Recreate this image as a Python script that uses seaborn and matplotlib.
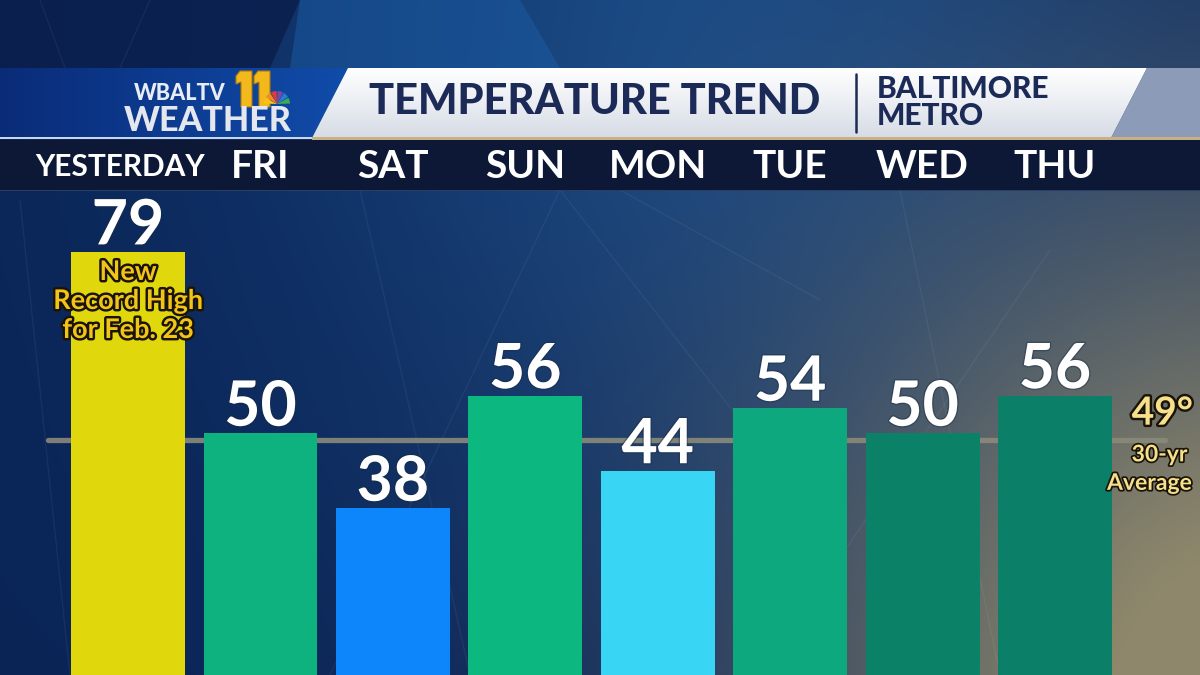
import numpy as np
import pandas as pd
import matplotlib
matplotlib.use("Agg")
import matplotlib.pyplot as plt
import matplotlib.patheffects as pe
from matplotlib.patches import Polygon, Rectangle, Wedge
from matplotlib.transforms import blended_transform_factory
import seaborn as sns

# ---------------- data ----------------
days = ["YESTERDAY", "FRI", "SAT", "SUN", "MON", "TUE", "WED", "THU"]
temps = [79, 50, 38, 56, 44, 54, 50, 56]
bar_colors = ["#e0d80c", "#0db27f", "#0e86fb", "#0db880", "#38d6f4", "#0da87e", "#0b8168", "#0b7f68"]
avg_temp = 49
title = "TEMPERATURE TREND"
region = ["BALTIMORE", "METRO"]
record_note = ["New", "Record High", "for Feb. 23"]

sns.set_theme(style="white")
FONT = "Lato"
plt.rcParams["font.family"] = [FONT, "DejaVu Sans"]

W, H = 1200, 675
fig = plt.figure(figsize=(12, 6.75), dpi=100)

# ---------------- background ----------------
axbg = fig.add_axes([0, 0, 1, 1], zorder=0)
axbg.set_xlim(0, W); axbg.set_ylim(H, 0); axbg.axis("off")
yy, xx = np.mgrid[0:H, 0:W].astype(float)
navy = np.array([10, 36, 86]) / 255
blue = np.array([24, 72, 132]) / 255
warm = np.array([150, 141, 108]) / 255
t = np.exp(-((xx - 720) ** 2) / (2 * 330 ** 2)) * np.clip(1.1 - yy / 700, 0, 1)
img = navy[None, None, :] * (1 - t[..., None]) + blue[None, None, :] * t[..., None]
w = np.exp(-(((xx - 1260) ** 2) + ((yy - 720) ** 2) * 0.8) / (2 * 330 ** 2))
w = np.clip(w * 1.05, 0, 0.95)
img = img * (1 - w[..., None]) + warm[None, None, :] * w[..., None]
axbg.imshow(img, extent=(0, W, H, 0), aspect="auto", interpolation="bilinear")
axbg.add_patch(Polygon([(0, 0), (300, 0), (270, 68), (0, 68)], closed=True, color="#0a1d4a", alpha=0.75, lw=0))
axbg.add_patch(Polygon([(300, 0), (520, 0), (560, 68), (290, 68)], closed=True, color="#1a5aa2", alpha=0.55, lw=0))
for (x0, y0, x1, y1) in [(20, 200, 70, 675), (360, 190, 470, 675), (560, 190, 330, 675),
                         (560, 190, 740, 420), (900, 190, 1000, 675), (1050, 250, 760, 675),
                         (40, 0, 65, 68), (150, 0, 120, 68), (620, 190, 820, 300)]:
    axbg.plot([x0, x1], [y0, y1], color="white", alpha=0.05, lw=1)

# ---------------- bars ----------------
ax = fig.add_axes([0, 0, 1, 1], zorder=2)
ax.patch.set_alpha(0)
df = pd.DataFrame({"day": days, "temp": temps})
ax.axhline(avg_temp, xmin=48 / W, xmax=1165 / W, color="#8a8a7a", lw=3.8, alpha=0.9, zorder=0.5)
sns.barplot(data=df, x="day", y="temp", hue="day", palette=dict(zip(days, bar_colors)),
            order=days, legend=False, width=0.86, saturation=1, ax=ax, zorder=1,
            edgecolor="none", linewidth=0)
ax.set_xlim(-0.967, 8.095)
ax.set_ylim(11.35, 119.3)
ax.axis("off")

for i, v in enumerate(temps):
    ax.annotate(str(v), xy=(i, v), xytext=(0, 5.5), textcoords="offset points",
                ha="center", va="baseline", fontsize=45, fontweight="bold", color="white",
                zorder=3, path_effects=[pe.withStroke(linewidth=2, foreground="#1a2a40", alpha=0.4)])

yel_fx = [pe.withStroke(linewidth=3.5, foreground="#1a1408")]
for k, (line, dy) in enumerate(zip(record_note, [-20, -49, -78])):
    ax.annotate(line, xy=(0, temps[0]), xytext=(0, dy * 0.72), textcoords="offset points",
                ha="center", va="center", fontsize=19.5, fontweight="bold", color="#f2c417",
                path_effects=yel_fx, zorder=4)

ax.annotate(f"{avg_temp}°", xy=(1.0, avg_temp), xycoords=("axes fraction", "data"),
            xytext=(-5, 19), textcoords="offset points", ha="right", va="center",
            fontsize=28, fontweight="bold", color="#f6e08c", path_effects=yel_fx, zorder=4)
ax.annotate("30-yr", xy=(1.0, avg_temp), xycoords=("axes fraction", "data"),
            xytext=(-9, -11), textcoords="offset points", ha="right", va="center",
            fontsize=16.5, fontweight="bold", color="#f6e08c",
            path_effects=[pe.withStroke(linewidth=2.5, foreground="#1a1408")], zorder=4)
ax.annotate("Average", xy=(1.0, avg_temp), xycoords=("axes fraction", "data"),
            xytext=(-6, -31.5), textcoords="offset points", ha="right", va="center",
            fontsize=16.5, fontweight="bold", color="#f6e08c",
            path_effects=[pe.withStroke(linewidth=2.5, foreground="#1a1408")], zorder=4)

# ---------------- header ----------------
axh = fig.add_axes([0, 0, 1, 1], zorder=3)
axh.set_xlim(0, W); axh.set_ylim(H, 0); axh.axis("off"); axh.patch.set_alpha(0)

gradb = np.linspace(0, 1, 200)[None, :]
cb0 = np.array([10, 44, 120]) / 255; cb1 = np.array([16, 76, 170]) / 255
bimg = cb0[None, None, :] * (1 - gradb[..., None]) + cb1[None, None, :] * gradb[..., None]
im = axh.imshow(bimg, extent=(0, 350, 138, 68), aspect="auto", zorder=1)
bp = Polygon([(0, 68), (348, 68), (312, 138), (0, 138)], closed=True, transform=axh.transData)
im.set_clip_path(bp)
gradw = np.linspace(0, 1, 100)[:, None]
cw0 = np.array([255, 255, 255]) / 255; cw1 = np.array([214, 220, 230]) / 255
wimg = cw0[None, None, :] * (1 - gradw[..., None]) + cw1[None, None, :] * gradw[..., None]
wimg = np.repeat(wimg, 10, axis=1)
im2 = axh.imshow(wimg, extent=(300, 1160, 138, 68), aspect="auto", zorder=1)
wp = Polygon([(348, 68), (1147, 68), (1111, 138), (312, 138)], closed=True, transform=axh.transData)
im2.set_clip_path(wp)
axh.add_patch(Polygon([(1147, 68), (1200, 68), (1200, 138), (1111, 138)], closed=True,
                      color="#8c9cb8", lw=0, zorder=1))
axh.add_patch(Rectangle((0, 136.5), 312, 2.5, color="#c9d6ee", lw=0, zorder=2))
axh.add_patch(Rectangle((312, 136.5), 888, 3, color="#c8b084", lw=0, zorder=2))
axh.add_patch(Rectangle((0, 139.5), W, 51, color="#0d1836", lw=0, zorder=2))
axh.add_patch(Rectangle((0, 189.5), W, 1.5, color="#2b3e66", lw=0, zorder=2))

navytxt = "#1b2a57"
axh.text(595, 102, title, ha="center", va="center", fontsize=30, fontweight="black",
         color=navytxt, zorder=3)
axh.plot([856, 856], [74, 132], color=navytxt, lw=1.8, zorder=3)
axh.text(877, 89, region[0], ha="left", va="center", fontsize=21.5, fontweight="black",
         color=navytxt, zorder=3)
axh.text(877, 116, region[1], ha="left", va="center", fontsize=21.5, fontweight="black",
         color=navytxt, zorder=3)

# logo: "WBALTV", the gold "11" mark drawn as shapes, "WEATHER", peacock
axh.text(180, 93, "WBALTV", ha="center", va="center", fontsize=15.5, fontweight="black",
         color="#e8edf5", zorder=3)
for x0 in (236, 254):
    axh.add_patch(Polygon([(x0 + 4, 71), (x0 + 16, 71), (x0 + 16, 107), (x0 + 5, 107),
                           (x0 + 5, 82), (x0, 84), (x0, 76)], closed=True,
                          color="#f2b81c", ec="#b07a08", lw=0.8, zorder=2.9))
axh.text(208, 121, "WEATHER", ha="center", va="center", fontsize=24.5, fontweight="black",
         color="#e4e8ee", zorder=3)
feathers = ["#f7c21a", "#f28a1e", "#e23a3a", "#7a4aa0", "#2a7cd0", "#3aae4a"]
for k, c in enumerate(feathers):
    a0 = 180 + k * 30
    axh.add_patch(Wedge((277, 104), 13, a0 + 2, a0 + 28, color=c, lw=0, zorder=3))

tr = blended_transform_factory(ax.transData, axh.transData)
for i, d in enumerate(days):
    fs = 21.5 if d == "YESTERDAY" else 28
    xo = -0.06 if d == "YESTERDAY" else 0
    axh.text(i + xo, 167, d, transform=tr, ha="center", va="center", fontsize=fs,
             fontweight="bold", color="white", zorder=3)

fig.savefig("out.png", dpi=100)
